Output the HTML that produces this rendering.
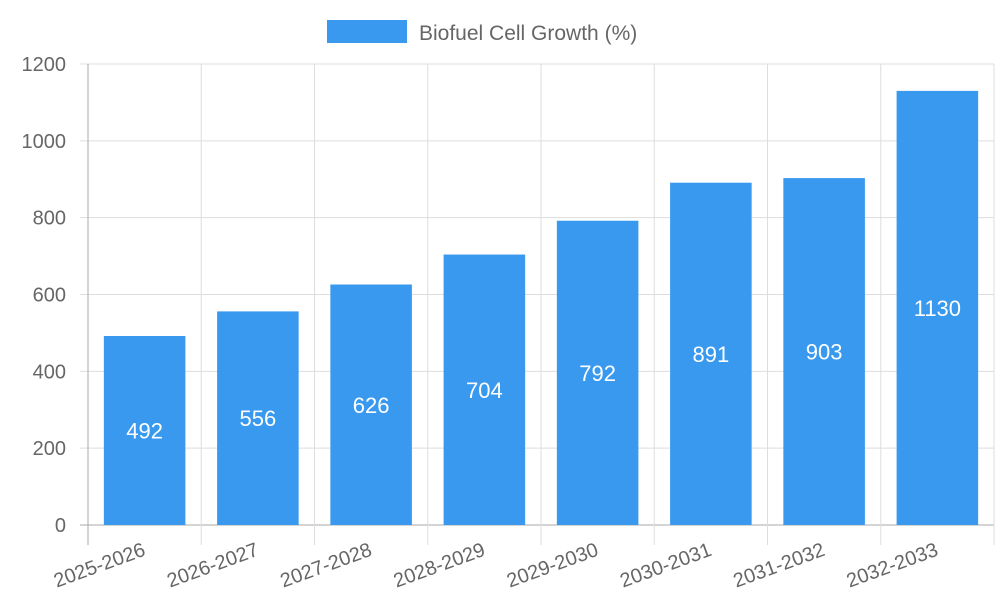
<!DOCTYPE html>
<html><head><meta charset="utf-8"><style>
html,body{margin:0;padding:0;background:#fff;}
svg{display:block;font-family:"Liberation Sans",sans-serif;}
</style></head><body>
<svg id="chart" width="1000" height="600" viewBox="0 0 1000 600">
<g id="legend">
<rect x="327" y="20" width="80" height="23" fill="#3899ef"></rect>
<text x="419" y="40" font-size="21" fill="#666">Biofuel Cell Growth (%)</text>
</g>
<g id="grid"></g><g id="bars"></g><g id="axes"></g>
</svg>
<script>
const categories=["2025-2026","2026-2027","2027-2028","2028-2029","2029-2030","2030-2031","2031-2032","2032-2033"];
const values=[492,556,626,704,792,891,903,1130];
const yTicks=[0,200,400,600,800,1000,1200];
const NS="http://www.w3.org/2000/svg";
const L=88,R=994,T=64,B=525,YMAX=1200;
const band=(R-L)/categories.length;
const y=v=>B-(v/YMAX)*(B-T);
const xc=i=>L+band*(i+0.5);
function mk(tag,attrs,parent,text){const e=document.createElementNS(NS,tag);for(const k in attrs)e.setAttribute(k,attrs[k]);if(text!==undefined)e.textContent=text;document.getElementById(parent).appendChild(e);return e;}
yTicks.forEach(t=>{
 const g=mk("line",{x1:L-8,x2:R,y1:y(t),y2:y(t),stroke:t===0?"#aaa":"#ddd","stroke-width":1},"grid");
 
 
 const lb=mk("text",{x:66,y:y(t)+7,"font-size":20,fill:"#666","text-anchor":"end"},"axes",String(t));
 
 
});
for(let i=0;i<=categories.length;i++){
 const x=L+band*i;
 const g=mk("line",{x1:x,x2:x,y1:T,y2:B+20,stroke:i===0?"#aaa":"#ddd","stroke-width":1},"grid");
 
 
}
categories.forEach((c,i)=>{
 const w=band*0.72,v=values[i];
 const r=mk("rect",{x:xc(i)-w/2,y:y(v),width:w,height:B-y(v),fill:"#3899ef"},"bars");
 
 
 const vl=mk("text",{x:xc(i),y:(y(v)+B)/2+8,"font-size":22,fill:"#fff","text-anchor":"middle"},"bars",String(v));
 
 
 const ax=xc(i)+2,ay=B+30;
 const xl=mk("text",{x:ax,y:ay,"font-size":20,fill:"#666","text-anchor":"end",transform:`rotate(-20 ${ax} ${ay})`},"axes",c);
 
 
});
</script>
</body></html>
